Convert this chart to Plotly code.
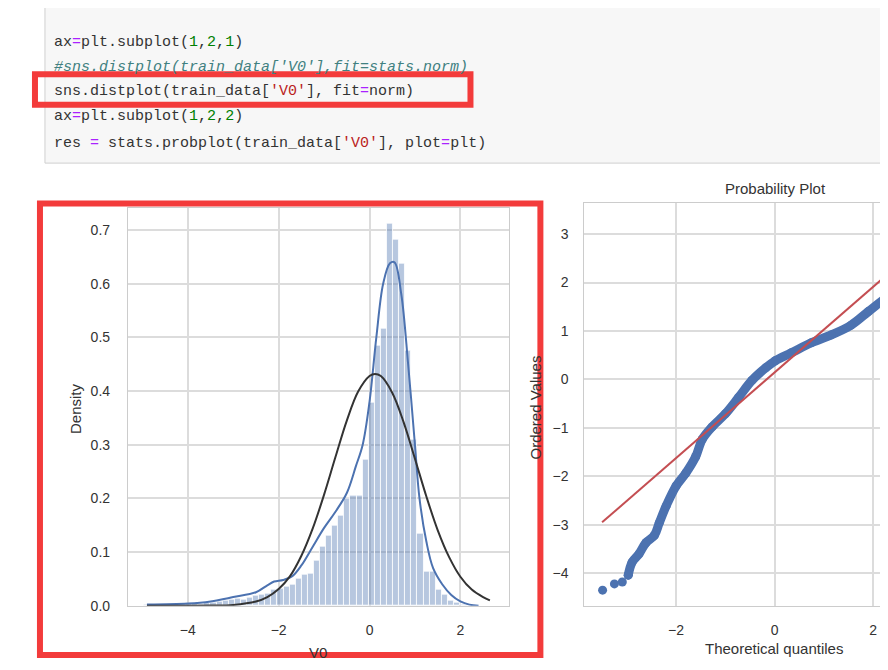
import plotly.graph_objects as go

# histogram of V0 (density), bins of equal width
bin_start = -4.978
bin_width = 0.134
hist_density = [0.002, 0.002, 0.0, 0.002, 0.002, 0.002, 0.003, 0.004, 0.004, 0.003,
                0.005, 0.006, 0.008, 0.010, 0.012, 0.014, 0.012, 0.016, 0.018, 0.020,
                0.022, 0.030, 0.032, 0.036, 0.040, 0.050, 0.058, 0.060, 0.085, 0.110,
                0.130, 0.150, 0.168, 0.200, 0.205, 0.205, 0.273, 0.378, 0.485, 0.517,
                0.713, 0.683, 0.637, 0.475, 0.310, 0.134, 0.064, 0.064, 0.030, 0.020,
                0.010, 0.005, 0.003, 0.002, 0.001, 0.001, 0.001]

kde_x = [-4.9, -4.0, -3.5, -3.0, -2.5, -2.25, -2.1, -1.9, -1.7, -1.5, -1.25, -1.0, -0.75,
         -0.5, -0.3, -0.15, 0.0, 0.15, 0.3, 0.45, 0.55, 0.7, 0.85, 1.0, 1.1, 1.25, 1.4,
         1.6, 1.8, 2.0, 2.2, 2.4]
kde_y = [0.002, 0.004, 0.008, 0.016, 0.025, 0.038, 0.045, 0.048, 0.055, 0.075, 0.11, 0.145,
         0.175, 0.21, 0.26, 0.30, 0.38, 0.50, 0.60, 0.638, 0.64, 0.58, 0.45, 0.30, 0.20,
         0.12, 0.07, 0.04, 0.02, 0.008, 0.002, 0.0]

norm_x = [-4.9, -3.5, -3.0, -2.5, -2.25, -2.0, -1.75, -1.5, -1.25, -1.0, -0.75, -0.5, -0.25,
          0.0, 0.12, 0.25, 0.5, 0.75, 1.0, 1.25, 1.5, 1.75, 2.0, 2.25, 2.5, 2.65]
norm_y = [0.0, 0.0002, 0.0014, 0.0077, 0.016, 0.031, 0.055, 0.093, 0.144, 0.207, 0.277,
          0.345, 0.399, 0.428, 0.432, 0.428, 0.397, 0.342, 0.274, 0.204, 0.141, 0.091,
          0.054, 0.030, 0.016, 0.010]

# probability plot
qq_tail_x = [-3.49, -3.25, -3.09, -2.97]
qq_tail_y = [-4.35, -4.22, -4.18, -4.04]
qq_x = [-2.97, -2.89, -2.75, -2.61, -2.44, -2.34, -2.2, -2.0, -1.8, -1.6, -1.47, -1.27,
        -1.0, -0.73, -0.46, -0.18, 0.02, 0.34, 0.75, 1.15, 1.55, 1.9, 2.24, 2.6, 3.0, 3.5]
qq_y = [-4.04, -3.77, -3.6, -3.37, -3.22, -2.96, -2.61, -2.2, -1.93, -1.59, -1.24, -0.98,
        -0.71, -0.37, -0.02, 0.24, 0.39, 0.55, 0.76, 0.92, 1.12, 1.4, 1.67, 1.9, 2.1, 2.3]
fit_x = [-3.5, 3.5]
fit_y = [-2.95, 3.24]

code_lines = [
    'ax<span style="color:#aa22ff">=</span>plt.subplot(<span style="color:#008000">1</span>,<span style="color:#008000">2</span>,<span style="color:#008000">1</span>)',
    '<i><span style="color:#408080">#sns.distplot(train_data[\'V0\'],fit=stats.norm)</span></i>',
    'sns.distplot(train_data[<span style="color:#ba2121">\'V0\'</span>], fit<span style="color:#aa22ff">=</span>norm)',
    'ax<span style="color:#aa22ff">=</span>plt.subplot(<span style="color:#008000">1</span>,<span style="color:#008000">2</span>,<span style="color:#008000">2</span>)',
    'res <span style="color:#aa22ff">=</span> stats.probplot(train_data[<span style="color:#ba2121">\'V0\'</span>], plot<span style="color:#aa22ff">=</span>plt)',
]
code_y = [43, 68, 93, 118, 145]

blue = "#4c72b0"
# page has an 8px body margin, so the figure sits at (8, 8)
OX, OY = 8, 8
W, H = 880, 662


def fx(x):
    return (x - OX) / W


def fy(y):
    return 1 - (y - OY) / H


bin_centers = [bin_start + bin_width * (i + 0.5) for i in range(len(hist_density))]

fig = go.Figure()
fig.add_trace(go.Bar(x=bin_centers, y=hist_density, width=bin_width,
                     marker=dict(color="rgba(76,114,176,0.4)", line=dict(color="white", width=0.8)),
                     xaxis="x", yaxis="y"))
fig.add_trace(go.Scatter(x=kde_x, y=kde_y, mode="lines", line=dict(color=blue, width=2, shape="spline"),
                         xaxis="x", yaxis="y"))
fig.add_trace(go.Scatter(x=norm_x, y=norm_y, mode="lines", line=dict(color="#333333", width=2, shape="spline"),
                         xaxis="x", yaxis="y"))
fig.add_trace(go.Scatter(x=qq_tail_x, y=qq_tail_y, mode="markers", marker=dict(color=blue, size=9),
                         xaxis="x2", yaxis="y2"))
fig.add_trace(go.Scatter(x=qq_x, y=qq_y, mode="lines+markers", line=dict(color=blue, width=9, shape="spline"),
                         marker=dict(color=blue, size=9), xaxis="x2", yaxis="y2"))
fig.add_trace(go.Scatter(x=fit_x, y=fit_y, mode="lines", line=dict(color="#c44e52", width=2),
                         xaxis="x2", yaxis="y2"))

ax_common = dict(showgrid=True, gridcolor="#dcdcdc", gridwidth=1.5, zeroline=False,
                 showline=True, linecolor="#cccccc", mirror=True, ticks="",
                 tickfont=dict(family="Liberation Sans", size=14, color="#333333"))
fig.update_layout(
    width=W, height=H, margin=dict(l=0, r=0, t=0, b=0),
    paper_bgcolor="white", plot_bgcolor="white", showlegend=False, bargap=0,
    font=dict(family="Liberation Sans", color="#333333"),
    xaxis=dict(domain=[fx(128), fx(510)], range=[-5.32, 3.08], tickvals=[-4, -2, 0, 2],
               ticktext=["\u22124", "\u22122", "0", "2"], anchor="y", ticklabelstandoff=12, **ax_common),
    yaxis=dict(domain=[fy(613), fy(210)], range=[0, 0.742], tickformat=".1f",
               dtick=0.1, anchor="x", ticklabelstandoff=14, **ax_common),
    xaxis2=dict(domain=[fx(585), 1.0], range=[-3.86, 2.28], tickvals=[-2, 0, 2],
                ticktext=["\u22122", "0", "2"], anchor="y2", ticklabelstandoff=12, **ax_common),
    yaxis2=dict(domain=[fy(613), fy(205)], range=[-4.67, 3.65],
                tickvals=[-4, -3, -2, -1, 0, 1, 2, 3],
                ticktext=["\u22124", "\u22123", "\u22122", "\u22121", "0", "1", "2", "3"],
                anchor="x2", ticklabelstandoff=12, **ax_common),
)

# code cell and highlight boxes
shapes = [
    dict(type="rect", xref="paper", yref="paper", x0=fx(45), x1=1.01, y0=fy(165), y1=1.02,
         fillcolor="#f7f7f7", line=dict(color="#cfcfcf", width=1), layer="below"),
    dict(type="rect", xref="paper", yref="paper", x0=fx(35), x1=fx(471), y0=fy(106), y1=fy(75),
         line=dict(color="#f33b3b", width=6)),
    dict(type="rect", xref="paper", yref="paper", x0=fx(40), x1=fx(541), y0=fy(663), y1=fy(206),
         line=dict(color="#f33b3b", width=6)),
]
fig.update_layout(shapes=shapes)

annotations = []
for txt, y in zip(code_lines, code_y):
    annotations.append(dict(text=txt, x=fx(52), y=fy(y), xref="paper", yref="paper",
                            xanchor="left", yanchor="middle", showarrow=False,
                            font=dict(family="Liberation Mono", size=15, color="#333333")))
labels = [
    ("Density", 75, 413, -90),
    ("V0", 318, 660, 0),
    ("Ordered Values", 536, 412, -90),
    ("Probability Plot", 776, 191, 0),
    ("Theoretical quantiles", 775, 656, 0),
]
for txt, x, y, ang in labels:
    annotations.append(dict(text=txt, x=fx(x), y=fy(y), xref="paper", yref="paper",
                            xanchor="center", yanchor="middle", showarrow=False, textangle=ang,
                            font=dict(family="Liberation Sans", size=15, color="#333333")))
fig.update_layout(annotations=annotations)

fig.write_html("out.html")
